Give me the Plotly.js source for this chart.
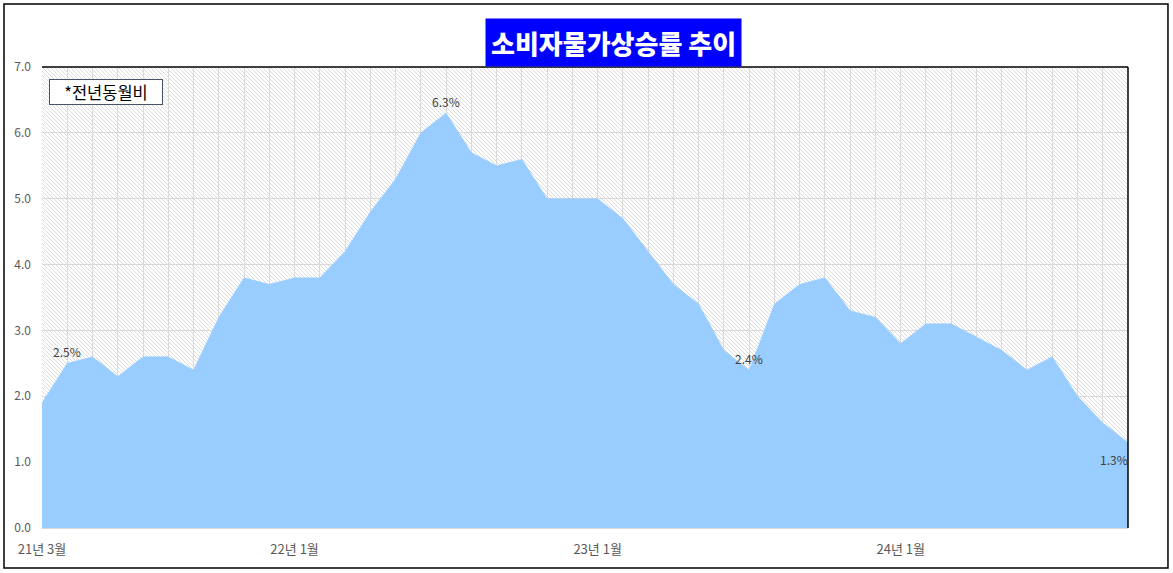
<!DOCTYPE html>
<html>
<head>
<meta charset="utf-8">
<script src="https://cdn.plot.ly/plotly-3.0.1.min.js"></script>
<style>
  html, body { margin: 0; padding: 0; background: #fff; }
  #chart { width: 1173px; height: 573px; }
</style>
</head>
<body>
<div id="chart"></div>
<script>
// 소비자물가상승률 (전년동월비, %)
const months = [
    '2021-03', '2021-04', '2021-05', '2021-06', '2021-07', '2021-08', '2021-09', '2021-10', '2021-11', '2021-12',
    '2022-01', '2022-02', '2022-03', '2022-04', '2022-05', '2022-06', '2022-07', '2022-08', '2022-09', '2022-10', '2022-11', '2022-12',
    '2023-01', '2023-02', '2023-03', '2023-04', '2023-05', '2023-06', '2023-07', '2023-08', '2023-09', '2023-10', '2023-11', '2023-12',
    '2024-01', '2024-02', '2024-03', '2024-04', '2024-05', '2024-06', '2024-07', '2024-08', '2024-09', '2024-10'
];
const cpi = [
    1.9, 2.5, 2.6, 2.3, 2.6, 2.6, 2.4, 3.2, 3.8, 3.7,
    3.8, 3.8, 4.2, 4.8, 5.3, 6.0, 6.3, 5.7, 5.5, 5.6, 5.0, 5.0,
    5.0, 4.7, 4.2, 3.7, 3.4, 2.7, 2.4, 3.4, 3.7, 3.8, 3.3, 3.2,
    2.8, 3.1, 3.1, 2.9, 2.7, 2.4, 2.6, 2.0, 1.6, 1.3
];
const tickMonths = ['2021-03', '2022-01', '2023-01', '2024-01'];
const tickLabels = ['21년 3월', '22년 1월', '23년 1월', '24년 1월'];
const labelMonths = ['2021-04', '2022-07', '2023-07', '2024-10'];

const ticktext = months.map(m => {
    const i = tickMonths.indexOf(m);
    return i >= 0 ? tickLabels[i] : '';
});

// hatched plot background (light diagonal lines)
const hatchSvg = "<svg xmlns='http://www.w3.org/2000/svg' width='1086' height='461'>" +
    "<defs><pattern id='p' width='4' height='4' patternUnits='userSpaceOnUse'>" +
    "<path d='M-1,-1 L5,5 M-1,3 L1,5 M3,-1 L5,1' stroke='#cfcfcf' stroke-width='0.75'/>" +
    "</pattern></defs><rect width='100%' height='100%' fill='white'/><rect width='100%' height='100%' fill='url(#p)'/></svg>";
const hatchSrc = 'data:image/svg+xml;charset=utf-8,' + encodeURIComponent(hatchSvg);

const labelFont = { family: 'Noto Sans CJK KR, Noto Sans, sans-serif', size: 12, color: '#404040' };

const pointLabels = labelMonths.map((m, k) => {
    const i = months.indexOf(m);
    const last = k === labelMonths.length - 1;
    return {
        x: m, y: cpi[i], xref: 'x', yref: 'y',
        text: cpi[i].toFixed(1) + '%',
        showarrow: false,
        font: labelFont,
        xanchor: last ? 'right' : 'center',
        yanchor: last ? 'top' : 'bottom',
        yshift: last ? -7 : 1,
        xshift: last ? 2 : 0
    };
});

const data = [{
    x: months,
    y: cpi,
    type: 'scatter',
    mode: 'lines',
    fill: 'tozeroy',
    fillcolor: '#99CCFF',
    line: { color: '#99CCFF', width: 0.5 },
    hoverinfo: 'x+y'
}];

const layout = {
    width: 1173,
    height: 573,
    margin: { l: 42, r: 45, t: 67, b: 45 },
    paper_bgcolor: '#ffffff',
    plot_bgcolor: 'rgba(0,0,0,0)',
    showlegend: false,
    font: { family: 'Noto Sans CJK KR, Noto Sans, sans-serif', size: 12, color: '#595959' },
    xaxis: {
        type: 'category',
        range: [0, months.length - 1],
        tickmode: 'array',
        tickvals: months,
        ticktext: ticktext,
        showgrid: true,
        gridcolor: '#d9d9d9',
        gridwidth: 1,
        ticks: '',
        ticklabelstandoff: 12,
        tickfont: { size: 13, color: '#595959' },
        showline: false,
        zeroline: false,
        fixedrange: true
    },
    yaxis: {
        range: [0, 7],
        dtick: 1,
        tick0: 0,
        tickformat: '.1f',
        showgrid: true,
        gridcolor: '#d9d9d9',
        gridwidth: 1,
        zeroline: true,
        zerolinecolor: '#d9d9d9',
        zerolinewidth: 1,
        ticks: '',
        ticklabelstandoff: 10,
        tickfont: { size: 12, color: '#595959' },
        showline: false,
        fixedrange: true
    },
    images: [{
        source: hatchSrc,
        xref: 'paper', yref: 'paper',
        x: 0, y: 1, sizex: 1, sizey: 1,
        xanchor: 'left', yanchor: 'top',
        sizing: 'stretch',
        layer: 'below'
    }],
    shapes: [
        // outer chart frame
        { type: 'rect', xref: 'paper', yref: 'paper', x0: -0.035, x1: 1.0368, y0: -0.0868, y1: 1.1367,
          line: { color: '#000000', width: 1.5 }, fillcolor: 'rgba(0,0,0,0)', layer: 'above' },
        // plot area top and right edges
        { type: 'line', xref: 'paper', yref: 'paper', x0: 0, x1: 1, y0: 1, y1: 1,
          line: { color: '#000000', width: 1.5 }, layer: 'above' },
        { type: 'line', xref: 'paper', yref: 'paper', x0: 1, x1: 1, y0: 0, y1: 1,
          line: { color: '#000000', width: 1.5 }, layer: 'above' }
    ],
    annotations: [
        {
            text: '소비자물가상승률 추이',
            xref: 'paper', yref: 'paper', x: 0.5262, y: 1.0542,
            xanchor: 'center', yanchor: 'middle',
            showarrow: false,
            bgcolor: '#0000FF',
            borderpad: 5,
            font: { family: 'Noto Sans CJK KR, sans-serif', size: 26, color: '#ffffff', weight: 900 }
        },
        {
            text: '*전년동월비',
            xref: 'paper', yref: 'paper', x: 0.0585, y: 0.9447,
            xanchor: 'center', yanchor: 'middle',
            showarrow: false,
            bgcolor: '#ffffff',
            bordercolor: '#44546A',
            borderwidth: 1,
            borderpad: 2,
            width: 108,
            height: 20,
            font: { family: 'Noto Sans CJK KR, sans-serif', size: 16.5, color: '#000000' }
        }
    ].concat(pointLabels)
};

Plotly.newPlot('chart', data, layout, { displayModeBar: false, responsive: false });
</script>
</body>
</html>
